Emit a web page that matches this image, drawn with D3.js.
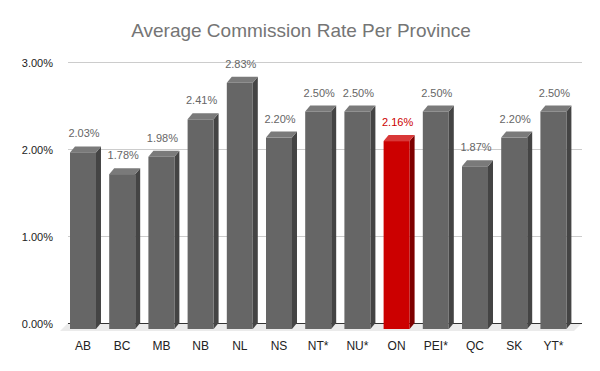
<!DOCTYPE html>
<html>
<head>
<meta charset="utf-8">
<script src="https://cdn.jsdelivr.net/npm/d3@7"></script>
<style>
  body { margin: 0; background: #fff; }
  svg { display: block; font-family: Arial, 'Liberation Sans', sans-serif; }
</style>
</head>
<body>
<svg id="chart" width="600" height="371"></svg>
<script>
const provinces = ['AB', 'BC', 'MB', 'NB', 'NL', 'NS', 'NT*', 'NU*', 'ON', 'PEI*', 'QC', 'SK', 'YT*'];
const rates = [2.03, 1.78, 1.98, 2.41, 2.83, 2.20, 2.50, 2.50, 2.16, 2.50, 1.87, 2.20, 2.50];
const yTicks = [0, 1, 2, 3];
const highlight = 'ON';

const depthX = 5, depthY = 6; // 3d offset of the bars

const svg = d3.select('#chart');

// step ~39.2px, face ~26px, first face starting at x=70
const x = d3.scaleBand()
  .domain(provinces)
  .range([60.2, 576.2])
  .paddingInner(0.337)
  .paddingOuter(0.25);

// back plane (gridlines) and front plane (bar faces)
const y = d3.scaleLinear().domain([0, 3]).range([323, 62]);
const yFront = v => y(v) + depthY;

// title
svg.append('text')
  .attr('x', 301)
  .attr('y', 37)
  .attr('text-anchor', 'middle')
  .attr('fill', '#757575')
  .style('font-size', '19px')
  .text('Average Commission Rate Per Province');

// floor
const x0 = 68, x1 = 582;
svg.append('path')
  .attr('d', `M${x0},${y(0)}L${x1},${y(0)}L${x1 - 8},${y(0) + 8}L${x0 - 8},${y(0) + 8}Z`)
  .attr('fill', '#ebebeb');

// gridlines
const yAxis = d3.axisLeft(y)
  .tickValues(yTicks)
  .tickSize(-(x1 - x0))
  .tickPadding(15)
  .tickFormat(d => d.toFixed(2) + '%');

const gY = svg.append('g')
  .attr('transform', `translate(${x0},0)`)
  .call(yAxis);
gY.select('.domain').remove();
gY.selectAll('.tick line')
  .attr('stroke', d => d === 0 ? '#333' : '#cccccc');
gY.selectAll('.tick text')
  .attr('fill', '#222')
  .attr('dy', '0.4em')
  .style('font-size', '11px')
  .style('font-family', 'Arial, sans-serif');

// bars
const bars = svg.append('g').selectAll('g')
  .data(provinces.map((p, i) => ({ p, v: rates[i] })))
  .join('g');

const colours = d => d.p === highlight
  ? { front: '#cc0000', side: '#7d0000', top: '#d93838' }
  : { front: '#666666', side: '#444444', top: '#7a7a7a' };

bars.append('path')
  .attr('d', d => {
    const l = x(d.p) + x.bandwidth(), t = yFront(d.v), b = yFront(0);
    return `M${l},${t}L${l + depthX},${t - depthY}L${l + depthX},${b - depthY}L${l},${b}Z`;
  })
  .attr('fill', d => colours(d).side);

bars.append('path')
  .attr('d', d => {
    const l = x(d.p), r = l + x.bandwidth(), t = yFront(d.v);
    return `M${l},${t}L${l + depthX},${t - depthY}L${r + depthX},${t - depthY}L${r},${t}Z`;
  })
  .attr('fill', d => colours(d).top);

bars.append('rect')
  .attr('x', d => x(d.p))
  .attr('y', d => yFront(d.v))
  .attr('width', x.bandwidth())
  .attr('height', d => yFront(0) - yFront(d.v))
  .attr('fill', d => colours(d).front);

// value labels
bars.append('text')
  .attr('x', d => x(d.p) + x.bandwidth() / 2 + 1)
  .attr('y', d => yFront(d.v) - depthY - 9)
  .attr('text-anchor', 'middle')
  .attr('fill', d => d.p === highlight ? '#cc0000' : '#666666')
  .style('font-size', '11px')
  .text(d => d.v.toFixed(2) + '%');

// category axis
const xAxis = d3.axisBottom(x).tickSize(0).tickPadding(10);
const gX = svg.append('g')
  .attr('transform', `translate(0,${yFront(0) + 2})`)
  .call(xAxis);
gX.select('.domain').remove();
gX.selectAll('.tick text')
  .attr('fill', '#222')
  .style('font-size', '12px')
  .style('font-family', 'Arial, sans-serif');
</script>
</body>
</html>
